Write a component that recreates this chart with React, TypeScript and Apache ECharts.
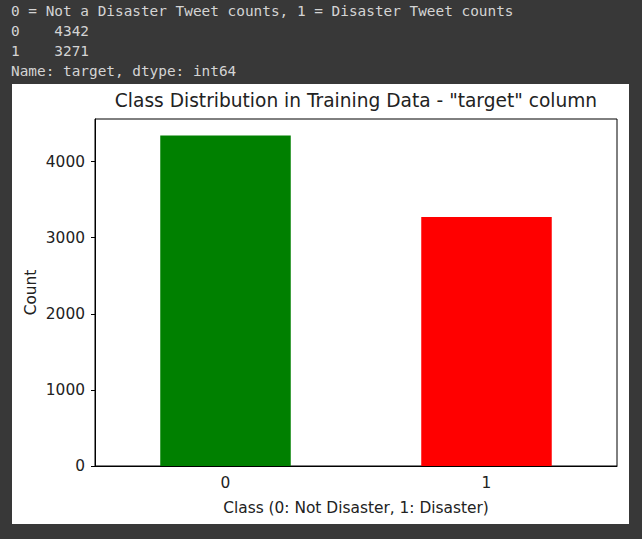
import React, { useEffect, useRef } from 'react';
import * as echarts from 'echarts';

const classes = ['0', '1'];
const counts = [4342, 3271];
const barColors = ['#008000', '#ff0000'];
const yTicks = [0, 1000, 2000, 3000, 4000];

const headerLine = '0 = Not a Disaster Tweet counts, 1 = Disaster Tweet counts';
const footerLine = 'Name: target, dtype: int64';

const App: React.FC = () => {
  const chartRef = useRef<HTMLDivElement>(null);

  useEffect(() => {
    if (!chartRef.current) return;
    document.body.style.margin = '0';
    document.body.style.background = '#383838';

    const chart = echarts.init(chartRef.current, undefined, { renderer: 'svg' });

    // console output printed above the figure
    const consoleLines = [
      headerLine,
      ...classes.map((c, i) => `${c}    ${counts[i]}`),
      footerLine
    ];
    const mono = '"DejaVu Sans Mono", "Liberation Mono", monospace';

    const option: echarts.EChartsOption = {
      animation: false,
      backgroundColor: '#383838',
      textStyle: { fontFamily: '"DejaVu Sans", sans-serif' },
      graphic: [
        {
          type: 'rect',
          z: -10,
          silent: true,
          shape: { x: 12, y: 84, width: 617, height: 440 },
          style: { fill: '#ffffff' }
        },
        ...consoleLines.map((line, i) => ({
          type: 'text' as const,
          left: 11,
          top: 4 + i * 20,
          style: {
            text: line,
            fill: '#d4d4d4',
            font: `14.4px ${mono}`
          }
        }))
      ],
      title: {
        text: 'Class Distribution in Training Data - "target" column',
        left: 356,
        top: 91,
        padding: 0,
        textAlign: 'center',
        textStyle: {
          color: '#222',
          fontSize: 18.6,
          fontWeight: 'normal',
          fontFamily: '"DejaVu Sans", sans-serif'
        }
      },
      grid: {
        left: 95,
        right: 25,
        top: 119,
        bottom: 73,
        show: true,
        borderColor: '#000',
        borderWidth: 1,
        backgroundColor: '#fff'
      },
      xAxis: {
        type: 'category',
        data: classes,
        name: 'Class (0: Not Disaster, 1: Disaster)',
        nameLocation: 'middle',
        nameGap: 34,
        nameTextStyle: { color: '#222', fontSize: 15.4 },
        axisLine: { lineStyle: { color: '#000', width: 1 } },
        axisTick: { alignWithLabel: true, length: 4, lineStyle: { color: '#000' } },
        axisLabel: { color: '#222', fontSize: 15.4, margin: 9 },
        splitLine: { show: false }
      },
      yAxis: {
        type: 'value',
        min: 0,
        max: 4559,
        interval: 1000,
        name: 'Count',
        nameLocation: 'middle',
        nameGap: 57,
        nameMoveOverlap: false,
        nameTextStyle: { color: '#222', fontSize: 15.4 },
        axisLine: { show: true, lineStyle: { color: '#000', width: 1 } },
        axisTick: {
          show: true,
          length: 4,
          customValues: yTicks,
          lineStyle: { color: '#000' }
        },
        axisLabel: {
          color: '#222',
          fontSize: 15.4,
          margin: 10,
          customValues: yTicks,
          formatter: (v: number) => String(v)
        },
        splitLine: { show: false }
      },
      series: [
        {
          type: 'bar',
          barWidth: '50%',
          data: counts.map((v, i) => ({ value: v, itemStyle: { color: barColors[i] } }))
        }
      ]
    } as echarts.EChartsOption;

    chart.setOption(option);
    return () => chart.dispose();
  }, []);

  return <div ref={chartRef} style={{ width: 642, height: 539 }} />;
};

export default App;
